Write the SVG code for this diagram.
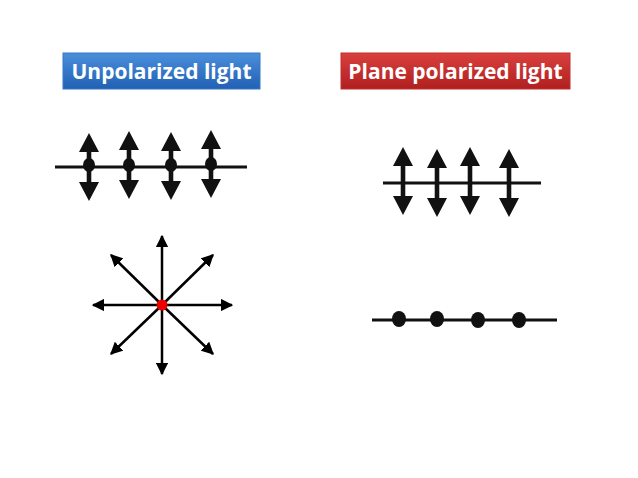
<svg xmlns="http://www.w3.org/2000/svg" width="638" height="478" viewBox="0 0 638 478">
<defs>
<linearGradient id="gb" x1="0" y1="0" x2="0" y2="1"><stop offset="0" stop-color="#4a8fdc"/><stop offset="1" stop-color="#2160b4"/></linearGradient>
<linearGradient id="gr" x1="0" y1="0" x2="0" y2="1"><stop offset="0" stop-color="#d9403e"/><stop offset="1" stop-color="#b01f1f"/></linearGradient>
<marker id="ah" viewBox="0 0 10 10" refX="9" refY="5" markerWidth="5" markerHeight="5" orient="auto"><path d="M0,0L10,5L0,10z" fill="#000"/></marker>
<path id="dbl" d="M0,-34L10,-15L2.3,-15L2.3,15L10,15L0,34L-10,15L-2.3,15L-2.3,-15L-10,-15z" fill="#111"/>
</defs>
<style>
.lbl{font-family:"Open Sans","Liberation Sans",sans-serif;font-weight:bold;font-size:21px;fill:#fff}
.ln{stroke:#111;stroke-width:3;fill:none}
.st{stroke:#000;stroke-width:2.5;marker-end:url(#ah)}
</style>
<rect width="638" height="478" fill="#fff"/>
<g id="title-unpolarized"><rect x="63" y="53" width="197" height="36" fill="url(#gb)" stroke="#3b78c4"/><text class="lbl" x="161.5" y="79" text-anchor="middle">Unpolarized light</text></g>
<g id="title-plane"><rect x="341" y="53" width="229" height="36" fill="url(#gr)" stroke="#c03030"/><text class="lbl" x="455.5" y="79" text-anchor="middle">Plane polarized light</text></g>
<g id="unpolarized-wave">
<line class="ln" x1="55" y1="167" x2="247" y2="167"/>
<use href="#dbl" x="89" y="167"/>
<use href="#dbl" x="129" y="165"/>
<use href="#dbl" x="171" y="166"/>
<use href="#dbl" x="211" y="164"/>
<g fill="#111"><ellipse cx="89" cy="165" rx="6" ry="7"/><ellipse cx="129" cy="165" rx="6" ry="7"/><ellipse cx="171" cy="165" rx="6" ry="7"/><ellipse cx="211" cy="164" rx="6" ry="7"/></g>
</g>
<g id="plane-wave">
<line class="ln" x1="383" y1="183" x2="541" y2="183"/>
<use href="#dbl" x="403" y="181"/>
<use href="#dbl" x="437" y="183"/>
<use href="#dbl" x="470" y="181"/>
<use href="#dbl" x="509" y="183"/>
</g>
<g id="star">
<line class="st" x1="162" y1="305" x2="162" y2="236"/>
<line class="st" x1="162" y1="305" x2="162" y2="374"/>
<line class="st" x1="162" y1="305" x2="93" y2="305"/>
<line class="st" x1="162" y1="305" x2="232" y2="305"/>
<line class="st" x1="162" y1="305" x2="111" y2="255"/>
<line class="st" x1="162" y1="305" x2="213" y2="255"/>
<line class="st" x1="162" y1="305" x2="111" y2="354"/>
<line class="st" x1="162" y1="305" x2="213" y2="354"/>
<circle cx="162" cy="305" r="5.5" fill="#e00"/>
</g>
<g id="plane-dots">
<line class="ln" x1="372" y1="320" x2="557" y2="320"/>
<g fill="#111"><ellipse cx="399" cy="319" rx="7" ry="8"/><ellipse cx="437" cy="319" rx="7" ry="8"/><ellipse cx="478" cy="320" rx="7" ry="8"/><ellipse cx="519" cy="320" rx="7" ry="8"/></g>
</g>
</svg>
